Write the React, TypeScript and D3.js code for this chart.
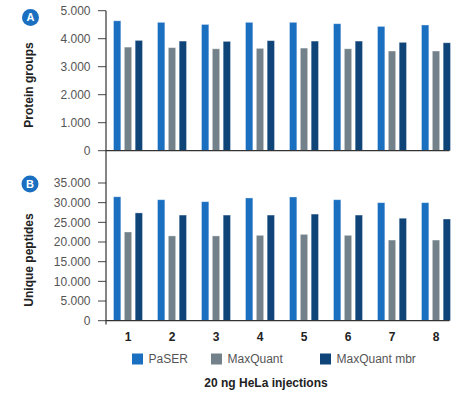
import React from "react";
import * as d3 from "d3";

const categories = ["1", "2", "3", "4", "5", "6", "7", "8"];
const seriesNames = ["PaSER", "MaxQuant", "MaxQuant mbr"];
const seriesColors = ["#1b6fc1", "#73828a", "#0f4478"];
const proteinPaSER = [4640, 4585, 4510, 4585, 4585, 4535, 4440, 4490];
const proteinMQ = [3700, 3680, 3640, 3655, 3665, 3640, 3560, 3560];
const proteinMbr = [3940, 3915, 3905, 3930, 3915, 3915, 3870, 3855];
const peptPaSER = [31500, 30750, 30250, 31200, 31450, 30750, 30000, 30000];
const peptMQ = [22550, 21550, 21550, 21700, 21950, 21700, 20500, 20500];
const peptMbr = [27400, 26850, 26850, 26850, 27100, 26850, 26050, 25850];
const proteinTicks = [0, 1000, 2000, 3000, 4000, 5000];
const peptideTicks = [0, 5000, 10000, 15000, 20000, 25000, 30000, 35000];

const FONT = "'Liberation Sans', Arial, Helvetica, sans-serif";
const fmt = (v: number) => (v === 0 ? "0" : d3.format(",")(v).replace(/,/g, "."));

export default function App() {
  const width = 469;
  const height = 398;
  const axisX = 106;

  const x = d3.scaleBand<string>().domain(categories).range([106, 458]).paddingInner(0.34).paddingOuter(0.17);
  const xs = d3.scaleBand<string>().domain(seriesNames).range([0, x.bandwidth()]).paddingInner(0.32).paddingOuter(0);

  const yA = d3.scaleLinear().domain([0, 5000]).range([150.7, 10.7]);
  const yB = d3.scaleLinear().domain([0, 35000]).range([320.7, 183]);

  const protein = [proteinPaSER, proteinMQ, proteinMbr];
  const peptides = [peptPaSER, peptMQ, peptMbr];

  const renderPanel = (data: number[][], y: d3.ScaleLinear<number, number>, ticks: number[], key: string) => (
    <g key={key}>
      {categories.map((c, i) =>
        seriesNames.map((s, k) => {
          const v = data[k][i];
          const bx = (x(c) as number) + (xs(s) as number);
          return (
            <rect
              key={key + c + s}
              x={bx}
              y={y(v)}
              width={xs.bandwidth()}
              height={y(0) - y(v)}
              fill={seriesColors[k]}
              stroke="rgba(255,255,255,0.45)"
              strokeWidth={0.8}
            />
          );
        })
      )}
      {ticks.map((t) => (
        <g key={key + "t" + t}>
          <line x1={axisX - 8} x2={axisX} y1={y(t)} y2={y(t)} stroke="#444" strokeWidth={1} />
          <text x={90.5} y={y(t)} dy="0.35em" textAnchor="end" fontSize={12} fill="#555" fontFamily={FONT}>
            {fmt(t)}
          </text>
        </g>
      ))}
      <line x1={axisX} x2={449.5} y1={y(0)} y2={y(0)} stroke="#333" strokeWidth={1.2} />
    </g>
  );

  return (
    <svg width={width} height={height} style={{ display: "block", position: "absolute", left: 0, top: 0 }}>
      <rect width={width} height={height} fill="#fff" />
      {renderPanel(protein, yA, proteinTicks, "A")}
      {renderPanel(peptides, yB, peptideTicks, "B")}
      <line x1={axisX} x2={axisX} y1={10.7} y2={324.5} stroke="#333" strokeWidth={1.2} />

      {/* panel badges */}
      <circle cx={30.5} cy={17.5} r={8.5} fill="#1b6fc1" />
      <text x={30.5} y={17.5} dy="0.36em" textAnchor="middle" fontSize={11} fontWeight="bold" fill="#fff" fontFamily={FONT}>A</text>
      <circle cx={30} cy={184} r={8.5} fill="#1b6fc1" />
      <text x={30} y={184} dy="0.36em" textAnchor="middle" fontSize={11} fontWeight="bold" fill="#fff" fontFamily={FONT}>B</text>

      {/* y titles */}
      <text transform="translate(32.5,85) rotate(-90)" textAnchor="middle" fontSize={12} fontWeight="bold" fill="#222" fontFamily={FONT}>
        Protein groups
      </text>
      <text transform="translate(32.5,260) rotate(-90)" textAnchor="middle" fontSize={12} fontWeight="bold" fill="#222" fontFamily={FONT}>
        Unique peptides
      </text>

      {/* x labels */}
      {categories.map((c) => (
        <text key={"xl" + c} x={(x(c) as number) + x.bandwidth() / 2} y={340.5} textAnchor="middle" fontSize={12} fontWeight="bold" fill="#222" fontFamily={FONT}>
          {c}
        </text>
      ))}

      {/* legend */}
      {seriesNames.map((s, k) => {
        const lx = [132, 211, 320][k];
        return (
          <g key={"lg" + s}>
            <rect x={lx} y={353.5} width={11} height={11} fill={seriesColors[k]} />
            <text x={lx + 16.5} y={359} dy="0.35em" fontSize={12} fill="#555" fontFamily={FONT}>{s}</text>
          </g>
        );
      })}
      <text x={266} y={386.5} textAnchor="middle" fontSize={12} fontWeight="bold" fill="#222" fontFamily={FONT}>
        20 ng HeLa injections
      </text>
    </svg>
  );
}
